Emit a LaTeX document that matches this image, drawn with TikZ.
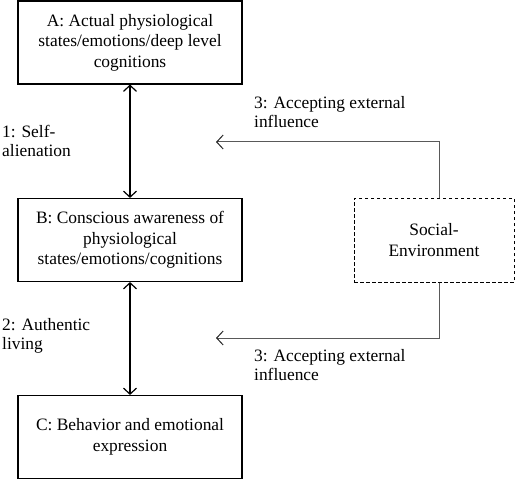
\documentclass[tikz,border=0pt]{standalone}
\usepackage{fontspec}
\setmainfont{Liberation Serif}
\usetikzlibrary{arrows.meta}

\tikzset{
  txt/.style={font=\fontsize{17.4}{20.5}\selectfont},
  stage/.style={txt, draw, line width=1.1pt, minimum width=224pt, minimum height=83pt, align=center, inner sep=0pt},
  socbox/.style={txt, draw, dashed, dash pattern=on 3.5pt off 2.5pt, line width=1pt, minimum width=160pt, minimum height=84pt, align=center, inner sep=0pt},
  link/.style={line width=1.2pt, {Straight Barb[length=6pt,width=13pt]}-{Straight Barb[length=6pt,width=13pt]}},
  push/.style={line width=1pt, draw=black!65, -{Straight Barb[length=6.5pt,width=14pt,black!85]}},
  lbl/.style={font=\fontsize{17.4}{18.8}\selectfont, align=left, anchor=west, inner sep=0pt}
}

\begin{document}
\begin{tikzpicture}[x=1pt, y=-1pt]
  \useasboundingbox (0,0) rectangle (516,481);

  % Stages
  \node[stage] (actual) at (130,42.5) {A: Actual physiological\\states/emotions/deep level\\cognitions};
  \node[stage] (aware) at (130,240) {B: Conscious awareness of\\physiological\\states/emotions/cognitions};
  \node[stage] (behav) at (130,437) {C: Behavior and emotional\\expression};

  % Social environment
  \node[socbox] (social) at (434,240) {Social-\\Environment};

  % Links between stages
  \draw[link] (actual) -- (aware);
  \draw[link] (aware) -- (behav);
  \node[lbl] (alien) at (2,141) {1: Self-\\alienation};
  \node[lbl] (living) at (2,336) {2: Authentic\\living};

  % External influence
  \coordinate (upturn) at (439,142);
  \coordinate (upend) at (216,142);
  \coordinate (downturn) at (439,338);
  \coordinate (downend) at (216,338);
  \draw[push] ([xshift=5pt]social.north) -- (upturn) -- (upend);
  \draw[push] ([xshift=5pt]social.south) -- (downturn) -- (downend);
  \node[lbl] (inflA) at (254,112) {3: Accepting external\\influence};
  \node[lbl] (inflB) at (254,365) {3: Accepting external\\influence};
\end{tikzpicture}
\end{document}
